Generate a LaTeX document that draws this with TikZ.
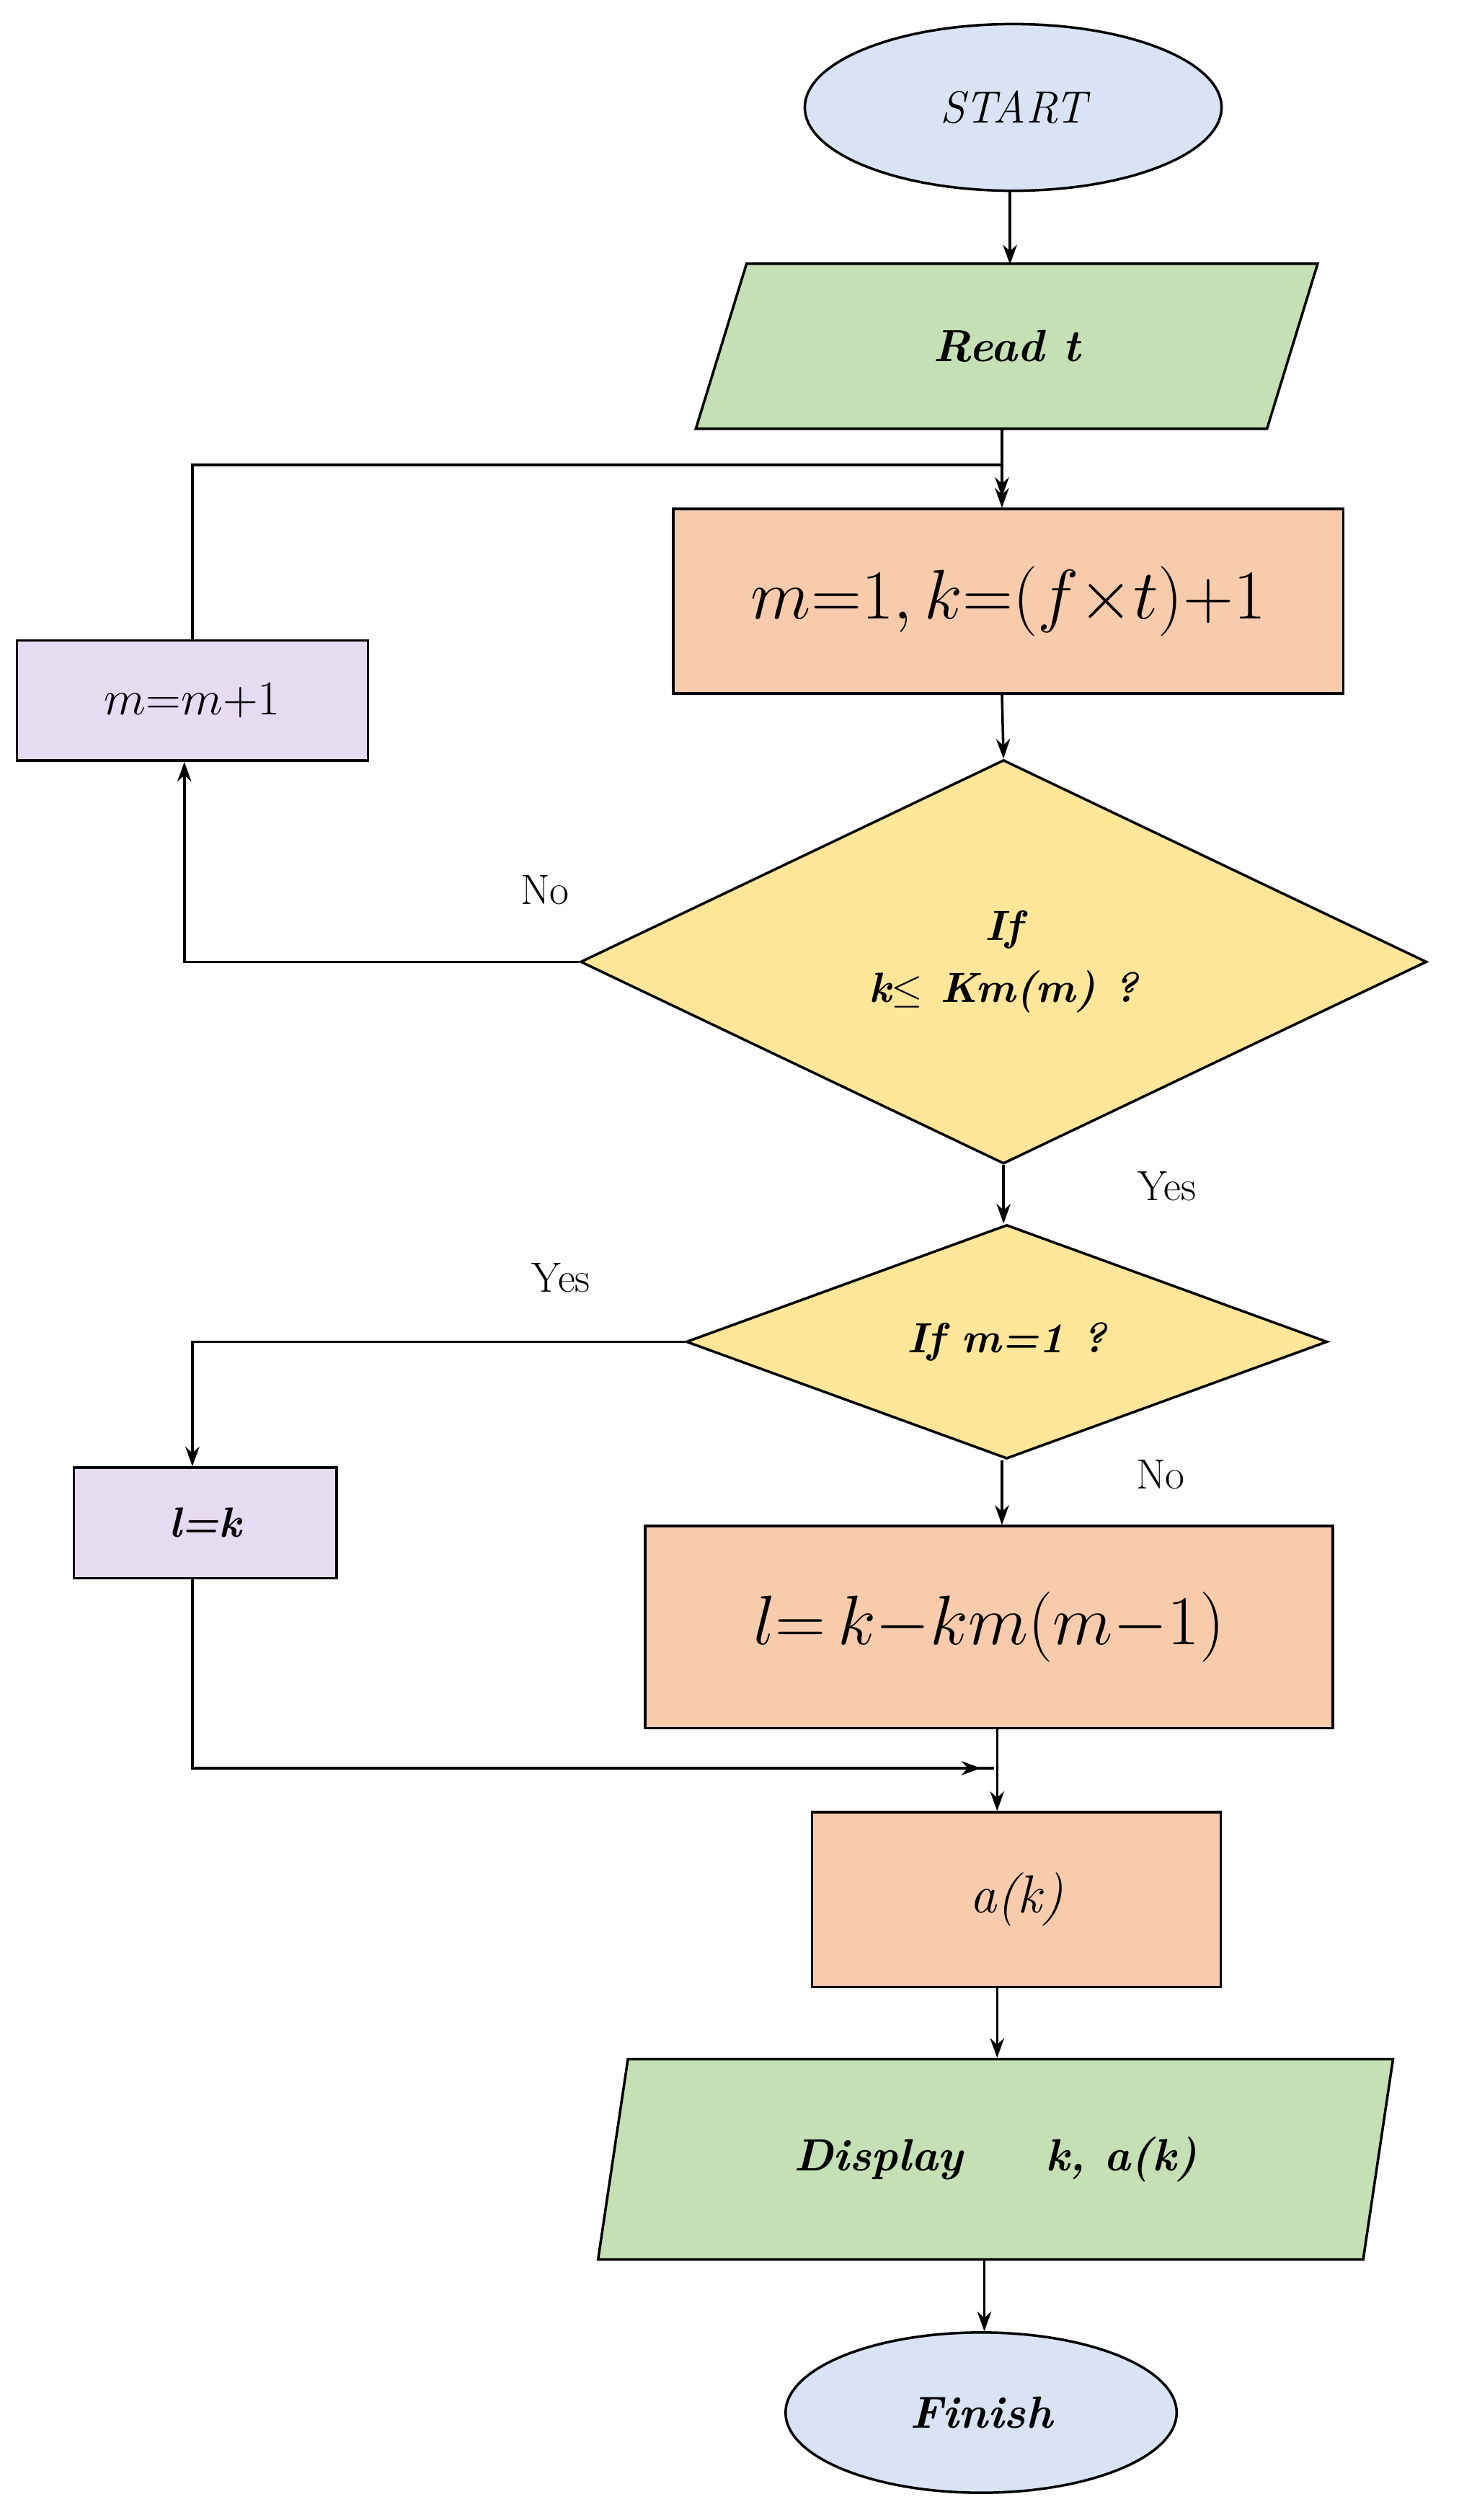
\documentclass[tikz,border=0pt]{standalone}
\usetikzlibrary{shapes.geometric,arrows.meta}
\definecolor{eblue}{HTML}{DAE3F3}
\definecolor{pgreen}{HTML}{C5E0B4}
\definecolor{borange}{HTML}{F8CBAD}
\definecolor{bpurple}{HTML}{E6DCF2}
\definecolor{dyellow}{HTML}{FFE699}
\begin{document}
\begin{tikzpicture}[x=0.02cm,y=-0.02cm,
  every node/.style={draw=black,line width=0.9pt,inner sep=0pt,font=\itshape},
  term/.style={ellipse,fill=eblue},
  io/.style={trapezium,trapezium stretches=true,fill=pgreen},
  proc/.style={rectangle,fill=borange},
  aux/.style={rectangle,fill=bpurple},
  dec/.style={diamond,aspect=2,fill=dyellow},
  lbl/.style={draw=none,font=\fontsize{15}{18}\selectfont},
  arr/.style={line width=0.9pt,-{Stealth[length=7pt,width=5pt]}},
  ln/.style={line width=0.9pt}]
\useasboundingbox (0,0) rectangle (910,1572);
\node[term,minimum width=5.2cm,minimum height=2.08cm,font=\itshape\fontsize{16}{19}\selectfont] (start) at (632,67) {START};
\node[io,trapezium left angle=66,trapezium right angle=114,minimum width=7.8cm,minimum height=2.06cm,font=\bfseries\itshape\fontsize{16}{19}\selectfont] (read) at (628,216) {Read t};
\node[proc,minimum width=8.36cm,minimum height=2.3cm,font=\fontsize{25}{30}\selectfont] (init) at (629,375) {$m{=}1,k{=}(f{\times}t){+}1$};
\node[aux,minimum width=4.38cm,minimum height=1.5cm,font=\fontsize{17}{20}\selectfont] (inc) at (120,437) {$m{=}m{+}1$};
\node[dec,minimum width=10.56cm,minimum height=5.04cm,font=\bfseries\itshape\fontsize{15}{18}\selectfont,align=center] (d1) at (626,600) {If\\[4pt] k$\le$ Km(m) ?};
\node[dec,minimum width=8cm,minimum height=2.92cm,font=\bfseries\itshape\fontsize{15}{18}\selectfont] (d2) at (628,837) {If m=1 ?};
\node[aux,minimum width=3.28cm,minimum height=1.38cm,font=\bfseries\itshape\fontsize{15}{18}\selectfont] (lk) at (128,950) {l=k};
\node[proc,minimum width=8.58cm,minimum height=2.52cm,font=\fontsize{25}{30}\selectfont] (lcalc) at (617,1015) {$l{=}\,k{-}km(m{-}1)$};
\node[proc,minimum width=5.1cm,minimum height=2.18cm,font=\itshape\fontsize{19}{23}\selectfont] (ak) at (634,1185) {a(k)};
\node[io,trapezium left angle=70,trapezium right angle=110,minimum width=9.94cm,minimum height=2.5cm,font=\bfseries\itshape\fontsize{16}{19}\selectfont] (disp) at (621,1347) {Display\quad\ \ k, a(k)};
\node[term,minimum width=4.88cm,minimum height=2cm,font=\bfseries\itshape\fontsize{16}{19}\selectfont] (fin) at (612,1505) {Finish};
\coordinate (c1) at (120,290);
\coordinate (c2) at (625,290);
\coordinate (c3) at (115,600);
\coordinate (c4) at (120,837);
\coordinate (c5) at (120,1103);
\coordinate (c6) at (620,1103);
\draw[arr] (start.south -| 630,0) -- (630,165);
\draw[arr] (625,268) -- (init.north -| 625,0);
\draw[ln] (inc.north) -- (c1) -- (c2);
\draw[arr] (c2) -- (625,310);
\draw[arr] (init.south -| 625,0) -- (d1.north);
\draw[arr] (d1.west) -- (c3) -- (inc.south -| c3);
\draw[arr] (d1.south) -- (d2.north -| d1.south);
\draw[arr] (d2.west) -- (c4) -- (lk.north -| c4);
\draw[arr] (d2.south -| 625,0) -- (lcalc.north -| 625,0);
\draw[ln] (lk.south -| c5) -- (c5) -- (c6);
\draw[arr] (c5) -- (612,1103);
\draw[arr] (lcalc.south -| 622,0) -- (ak.north -| 622,0);
\draw[arr] (ak.south -| 622,0) -- (disp.north -| 622,0);
\draw[arr] (disp.south -| 614,0) -- (fin.north -| 614,0);
\node[lbl] at (340,555) {No};
\node[lbl] at (728,740) {Yes};
\node[lbl] at (350,797) {Yes};
\node[lbl] at (724,920) {No};
\end{tikzpicture}
\end{document}
